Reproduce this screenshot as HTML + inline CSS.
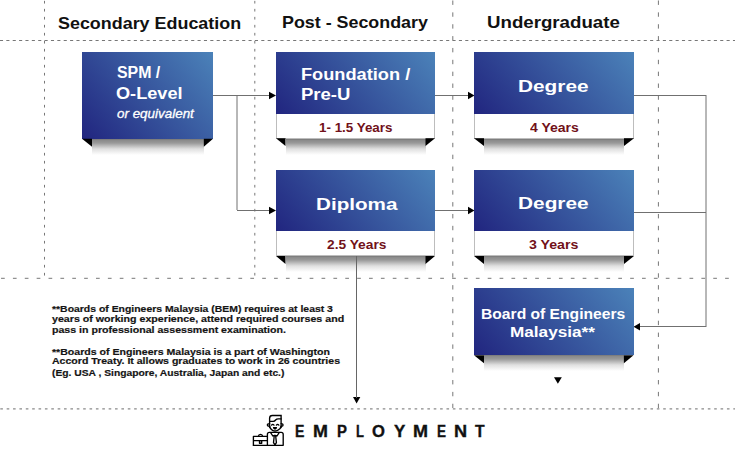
<!DOCTYPE html>
<html><head><meta charset="utf-8">
<style>
*{margin:0;padding:0;box-sizing:border-box}
html,body{width:735px;height:450px;overflow:hidden;background:#fff}
body{position:relative;font-family:"Liberation Sans",sans-serif}
.a{position:absolute;white-space:nowrap;transform-origin:0 0}
.hdr{font-weight:bold;font-size:17px;color:#111;line-height:1}
.box{position:absolute;background:linear-gradient(50deg,#21257f,#4b82b9)}
.wt{position:absolute;background:#fff;border:1px solid #bdbdbd;border-top:none}
.sh{position:absolute;height:16px;background:linear-gradient(#777 0px,#8c8c8c 1.5px,#999 4px,#bdbdbd 7px,#e0e0e0 10px,#f5f5f5 14px,#fff 16px)}
.bt{color:#fff;font-weight:bold;font-size:17px;line-height:1}
.yr{color:#711119;font-weight:bold;font-size:13px;line-height:1}
.fn{color:#151515;font-weight:bold;font-size:9.8px;line-height:1;-webkit-text-stroke:0.2px #151515}
.emp{font-weight:bold;font-size:16px;color:#111;line-height:1;-webkit-text-stroke:0.35px #111}
</style></head><body>

<svg class="a" style="left:0;top:0" width="735" height="450" viewBox="0 0 735 450">
  <!-- dashed grid -->
  <g fill="none" stroke="#777" stroke-width="1">
    <line x1="0" y1="40.5" x2="735" y2="40.5" stroke-dasharray="3.1 3.274" stroke-dashoffset="0.05"/>
    <line x1="0" y1="278.3" x2="735" y2="278.3" stroke-dasharray="3.7 8.17" stroke-dashoffset="-1.05"/>
    <line x1="0" y1="408.9" x2="735" y2="408.9" stroke="#8a8a8a" stroke-width="1.3" stroke-dasharray="2.6 3.774" stroke-dashoffset="-0.3"/>
    <line x1="44.5" y1="0" x2="44.5" y2="277" stroke-dasharray="2.7 5.3" stroke-dashoffset="-0.85"/>
    <line x1="254.8" y1="0" x2="254.8" y2="277" stroke-dasharray="2.7 5.3" stroke-dashoffset="-0.85"/>
    <line x1="452.8" y1="0" x2="452.8" y2="408" stroke-dasharray="4.4 7.46" stroke-dashoffset="-0.5"/>
    <line x1="658.4" y1="0" x2="658.4" y2="408" stroke-dasharray="4.4 7.46" stroke-dashoffset="-0.5"/>
  </g>
  <!-- connectors -->
  <g fill="none" stroke-width="1" stroke="#707070">
    <line x1="213" y1="95.5" x2="270" y2="95.5"/>
    <line x1="237" y1="95" x2="237" y2="210"/>
    <line x1="237" y1="210.5" x2="270" y2="210.5"/>
    <line x1="435" y1="95.5" x2="469" y2="95.5"/>
    <line x1="435" y1="210.5" x2="469" y2="210.5"/>
    <line x1="634" y1="95.5" x2="706" y2="95.5"/>
    <line x1="634" y1="212.5" x2="706" y2="212.5"/>
    <line x1="706" y1="95" x2="706" y2="327"/>
    <line x1="639" y1="326.5" x2="706" y2="326.5"/>
  </g>
  <g fill="#000">
    <polygon points="269,91.7 276,95.5 269,99.2"/>
    <polygon points="269,206.8 276,210.5 269,214.2"/>
    <polygon points="468,91.8 474.5,95.5 468,99.2"/>
    <polygon points="468,206.8 474.5,210.5 468,214.2"/>
    <polygon points="640,323 633.5,326.8 640,330.6"/>
    <polygon points="353,397 360.3,397 356.6,403.6"/>
    <polygon points="554,377.3 561.8,377.3 557.9,383.8"/>
  </g>
</svg>

<!-- headers -->
<div class="a hdr" id="h1" style="left:57.73px;top:15.25px;transform:scaleX(1.0535)">Secondary Education</div>
<div class="a hdr" id="h2" style="left:282.22px;top:14.25px;transform:scaleX(1.0505)">Post - Secondary</div>
<div class="a hdr" id="h3" style="left:486.97px;top:14.25px;transform:scaleX(1.0982)">Undergraduate</div>

<!-- SPM box -->
<div class="box" style="left:82px;top:52px;width:131px;height:87px"></div>
<div class="sh" style="left:92px;top:139px;width:112px"></div>
<div class="a bt" id="t_spm1" style="left:117.20px;top:65.00px;font-size:16px;transform:scaleX(0.9930)">SPM /</div>
<div class="a bt" id="t_spm2" style="left:116.20px;top:85.75px;font-size:16px;transform:scaleX(1.1341)">O-Level</div>
<div class="a bt" id="t_spm3" style="left:116.99px;top:107.00px;font-style:italic;font-weight:normal;font-size:13px;-webkit-text-stroke:0.3px #fff;transform:scaleX(1.0320)">or equivalent</div>

<!-- Foundation -->
<div class="box" style="left:276px;top:52px;width:159px;height:61.5px"></div>
<div class="wt" style="left:276px;top:113.5px;width:159px;height:25px"></div>
<div class="sh" style="left:285.5px;top:138.5px;width:140px"></div>
<div class="a bt" id="t_f1" style="left:300.64px;top:67.00px;font-size:16px;transform:scaleX(1.1377)">Foundation /</div>
<div class="a bt" id="t_f2" style="left:300.61px;top:87.00px;font-size:16px;transform:scaleX(1.1570)">Pre-U</div>
<div class="a yr" id="t_f3" style="left:318.97px;top:120.50px;transform:scaleX(1.0301)">1- 1.5 Years</div>

<!-- Degree 1 -->
<div class="box" style="left:474px;top:52px;width:160px;height:61.5px"></div>
<div class="wt" style="left:474px;top:113.5px;width:160px;height:25px"></div>
<div class="sh" style="left:484px;top:138.5px;width:140px"></div>
<div class="a bt" id="t_d1" style="left:518.05px;top:77.75px;transform:scaleX(1.2235)">Degree</div>
<div class="a yr" id="t_d1y" style="left:529.75px;top:120.50px;transform:scaleX(1.0779)">4 Years</div>

<!-- Diploma -->
<div class="box" style="left:276px;top:169.6px;width:159px;height:61.7px"></div>
<div class="wt" style="left:276px;top:231.3px;width:159px;height:24.8px"></div>
<div class="sh" style="left:285.5px;top:256px;width:140px"></div>
<div class="a bt" id="t_dp" style="left:316.09px;top:196.25px;transform:scaleX(1.2140)">Diploma</div>
<div class="a yr" id="t_dpy" style="left:327.48px;top:238.00px;transform:scaleX(1.0575)">2.5 Years</div>

<!-- Degree 2 -->
<div class="box" style="left:474px;top:169.6px;width:160px;height:61.7px"></div>
<div class="wt" style="left:474px;top:231.3px;width:160px;height:24.8px"></div>
<div class="sh" style="left:484px;top:256px;width:140px"></div>
<div class="a bt" id="t_d2" style="left:518.43px;top:195.25px;transform:scaleX(1.2260)">Degree</div>
<div class="a yr" id="t_d2y" style="left:529.42px;top:238.00px;transform:scaleX(1.0898)">3 Years</div>

<!-- BEM -->
<div class="box" style="left:474px;top:287.6px;width:159.5px;height:67.7px"></div>
<div class="sh" style="left:484px;top:355.3px;width:140px"></div>
<div class="a bt" id="t_b1" style="left:480.90px;top:307.25px;font-size:14px;transform:scaleX(1.1169)">Board of Engineers</div>
<div class="a bt" id="t_b2" style="left:510.37px;top:325.25px;font-size:14px;transform:scaleX(1.2261)">Malaysia**</div>

<!-- ribbon triangles -->
<svg class="a" style="left:0;top:0" width="735" height="450" viewBox="0 0 735 450">
  <line x1="356.5" y1="256" x2="356.5" y2="398" stroke="#666" stroke-width="1"/>
  <g fill="#000">
    <polygon points="82,138.7 92,138.7 92,146.7"/>
    <polygon points="203.8,138.7 213,138.7 203.8,146.7"/>
    <polygon points="276,138.3 285.5,138.3 285.5,146"/>
    <polygon points="425.5,138.3 435,138.3 425.5,146"/>
    <polygon points="474,138.3 484,138.3 484,146"/>
    <polygon points="624,138.3 634,138.3 624,146"/>
    <polygon points="276,256.1 285.5,256.1 285.5,264"/>
    <polygon points="425.5,256.1 435,256.1 425.5,264"/>
    <polygon points="474,256.1 484,256.1 484,264"/>
    <polygon points="624,256.1 634,256.1 624,264"/>
    <polygon points="474,355.3 484,355.3 484,363.3"/>
    <polygon points="623.9,355.3 633.5,355.3 623.9,363.3"/>
  </g>
</svg>

<!-- footnotes -->
<div class="a fn" id="n1" style="left:52.06px;top:304.30px;transform:scaleX(1.0637)">**Boards of Engineers Malaysia (BEM) requires at least 3</div>
<div class="a fn" id="n2" style="left:52.33px;top:314.00px;transform:scaleX(1.0862)">years of working experience, attend required courses and</div>
<div class="a fn" id="n3" style="left:51.72px;top:325.10px;transform:scaleX(1.0821)">pass in professional assessment examination.</div>
<div class="a fn" id="n4" style="left:52.07px;top:346.50px;transform:scaleX(1.0784)">**Boards of Engineers Malaysia is a part of Washington</div>
<div class="a fn" id="n5" style="left:51.82px;top:356.20px;transform:scaleX(1.0760)">Accord Treaty. It allows graduates to work in 26 countries</div>
<div class="a fn" id="n6" style="left:51.74px;top:367.50px;transform:scaleX(1.0498)">(Eg. USA , Singapore, Australia, Japan and etc.)</div>

<!-- icon -->
<svg class="a" id="icon" style="left:250px;top:412px" width="40" height="36" viewBox="250 412 40 36">
  <g fill="none" stroke="#000" stroke-width="1.35" stroke-linejoin="round" stroke-linecap="round">
    <!-- hair + head outline -->
    <path d="M269.6,427.3 V418.3 Q269.6,415.5 272.4,415.5 H281.1 V427.5" stroke-linejoin="miter"/>
    <path d="M269.6,421.3 H273.3 Q274.6,421.3 275.6,420 Q276.6,418.9 278.2,418.9 H281.1"/>
    <!-- jaw -->
    <path d="M269.6,426.5 Q270.2,429.2 272.5,430.4 Q274.9,431.6 277.6,430.4 Q280.6,429 281.1,426.5"/>
    <!-- ears -->
    <path d="M269.6,423.6 Q267.4,423.6 267.4,424.9 Q267.4,426.2 269.6,426.2"/>
    <path d="M281.1,423.6 Q283.1,423.6 283.1,424.9 Q283.1,426.2 281.1,426.2"/>
    <!-- eyes -->
    <path d="M271.6,425.1 Q272.8,423.5 274,425.1"/>
    <path d="M276.4,425.1 Q277.6,423.5 278.8,425.1"/>
    <!-- body -->
    <path d="M253.4,445.3 H283.2 V434.4 Q283.2,432.4 281.2,432.4 H269.4 Q267.4,432.4 267.4,434.4 V445.3"/>
    <!-- collar -->
    <path d="M270.8,432.8 L272.8,436 L274.9,435.3 L277,436 L279,432.8"/>
    <!-- tie -->
    <path d="M274.2,436.3 L273.5,442.6 L275,444.8 L276.4,442.6 L275.7,436.3"/>
    <!-- briefcase -->
    <path d="M253.4,436.4 H267.4 M253.4,436.4 V445.3 M253.4,440.6 H267.4"/>
    <path d="M258.4,436.4 Q258.6,434.4 260.5,434.4 Q262.4,434.4 262.6,436.4"/>
    <rect x="259.5" y="440.6" width="2.2" height="2.6"/>
  </g>
  <path d="M272.9,427 H277.1 Q277.1,429.7 275,429.7 Q272.9,429.7 272.9,427 Z" fill="#000"/>
</svg>

<!-- employment -->
<div class="a emp" id="e0" style="left:295.45px;top:424.25px;transform:scaleX(0.8795)">E</div>
<div class="a emp" id="e1" style="left:312.81px;top:424.25px;transform:scaleX(1.1170)">M</div>
<div class="a emp" id="e2" style="left:336.98px;top:424.25px;transform:scaleX(0.9308)">P</div>
<div class="a emp" id="e3" style="left:355.78px;top:424.25px;transform:scaleX(0.8138)">L</div>
<div class="a emp" id="e4" style="left:372.44px;top:424.00px;transform:scaleX(1.0358)">O</div>
<div class="a emp" id="e5" style="left:394.00px;top:424.25px;transform:scaleX(1.0610)">Y</div>
<div class="a emp" id="e6" style="left:412.95px;top:424.25px;transform:scaleX(1.1244)">M</div>
<div class="a emp" id="e7" style="left:436.74px;top:424.25px;transform:scaleX(0.8432)">E</div>
<div class="a emp" id="e8" style="left:454.05px;top:424.25px;transform:scaleX(1.1325)">N</div>
<div class="a emp" id="e9" style="left:474.86px;top:424.25px;transform:scaleX(0.9797)">T</div>

</body></html>
